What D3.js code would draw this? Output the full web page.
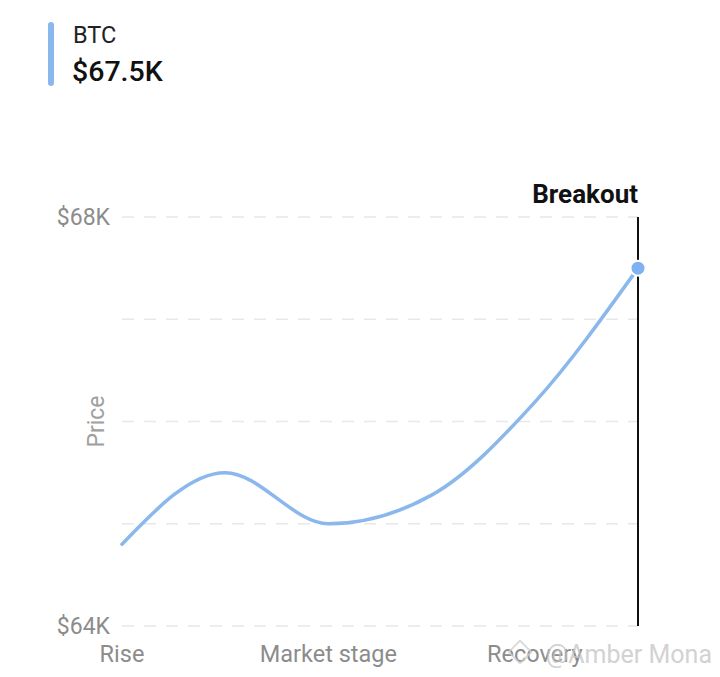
<!DOCTYPE html>
<html>
<head>
<meta charset="utf-8">
<script src="https://cdn.jsdelivr.net/npm/d3@7"></script>
<style>
  html, body { margin: 0; padding: 0; background: #fff; }
  svg { display: block; font-family: Roboto, "Noto Sans", sans-serif; }
</style>
</head>
<body>
<svg id="chart" width="720" height="677"></svg>
<script>
// data
const stages = ["Rise", "Pullback", "Market stage", "Accumulation", "Recovery", "Breakout"];
const prices = [64.8, 65.5, 65.0, 65.28, 66.19, 67.5]; // in $K
const shownStages = ["Rise", "Market stage", "Recovery"];
const yTicks = [64, 65, 66, 67, 68];
const yLabels = [64, 68];
const ticker = "BTC";
const highlight = "Breakout";

const svg = d3.select("#chart");
const lineColor = "#8ab8ec";

// header block
svg.append("line")
  .attr("x1", 51).attr("x2", 51).attr("y1", 25).attr("y2", 83)
  .attr("stroke", lineColor).attr("stroke-width", 6).attr("stroke-linecap", "round");
svg.append("text").attr("x", 73).attr("y", 43)
  .attr("font-size", 23.5).attr("fill", "#222").text(ticker);
const last = prices[prices.length - 1];
svg.append("text").attr("x", 72).attr("y", 81)
  .attr("font-size", 28.5).attr("font-weight", 500).attr("fill", "#111")
  .text("$" + last.toFixed(1) + "K");

// scales
const x = d3.scalePoint().domain(stages).range([122, 638]);
const y = d3.scaleLinear().domain([64, 68]).range([626, 217]);

// grid lines (dashed)
svg.append("g").selectAll("line")
  .data(yTicks)
  .join("line")
  .attr("x1", 122).attr("x2", 638)
  .attr("y1", d => y(d)).attr("y2", d => y(d))
  .attr("stroke", "#e8e8e8").attr("stroke-width", 1.5)
  .attr("stroke-dasharray", "12,10");

// y labels
svg.append("g").selectAll("text")
  .data(yLabels)
  .join("text")
  .attr("x", 110).attr("y", d => y(d) + 8)
  .attr("text-anchor", "end")
  .attr("font-size", 23).attr("fill", "#8c8c8c")
  .text(d => "$" + d + "K");

// y title
svg.append("text")
  .attr("transform", `translate(104, ${y(66)}) rotate(-90)`)
  .attr("text-anchor", "middle")
  .attr("font-size", 23).attr("fill", "#a0a0a0")
  .text("Price");

// x labels
svg.append("g").selectAll("text")
  .data(shownStages)
  .join("text")
  .attr("x", d => x(d)).attr("y", 662)
  .attr("text-anchor", "middle")
  .attr("font-size", 23.5).attr("fill", "#8c8c8c")
  .text(d => d);

// crosshair at the highlighted stage
svg.append("line")
  .attr("x1", x(highlight)).attr("x2", x(highlight))
  .attr("y1", y(68)).attr("y2", y(64))
  .attr("stroke", "#111").attr("stroke-width", 2);
svg.append("text")
  .attr("x", x(highlight)).attr("y", 203)
  .attr("text-anchor", "end")
  .attr("font-size", 26).attr("font-weight", 700).attr("fill", "#111")
  .text(highlight);

// price line
const line = d3.line()
  .x((d, i) => x(stages[i]))
  .y(d => y(d))
  .curve(d3.curveMonotoneX);
svg.append("path")
  .datum(prices)
  .attr("d", line)
  .attr("fill", "none")
  .attr("stroke", lineColor)
  .attr("stroke-width", 3.5)
  .attr("stroke-linecap", "round");

// point on the crosshair
svg.append("circle")
  .attr("cx", x(highlight)).attr("cy", y(last))
  .attr("r", 7.5)
  .attr("fill", "#7fb2f0")
  .attr("stroke", "#fff").attr("stroke-width", 2);

// watermark
const wm = svg.append("g").attr("opacity", 0.75);
wm.append("rect")
  .attr("x", -8).attr("y", -8).attr("width", 16).attr("height", 16)
  .attr("transform", "translate(520, 652) rotate(45)")
  .attr("fill", "none").attr("stroke", "#d0d0d0").attr("stroke-width", 2);
wm.append("text")
  .attr("x", 712).attr("y", 663)
  .attr("text-anchor", "end")
  .attr("font-size", 25).attr("fill", "#c4c4c4")
  .text("@Amber Mona");
</script>
</body>
</html>
